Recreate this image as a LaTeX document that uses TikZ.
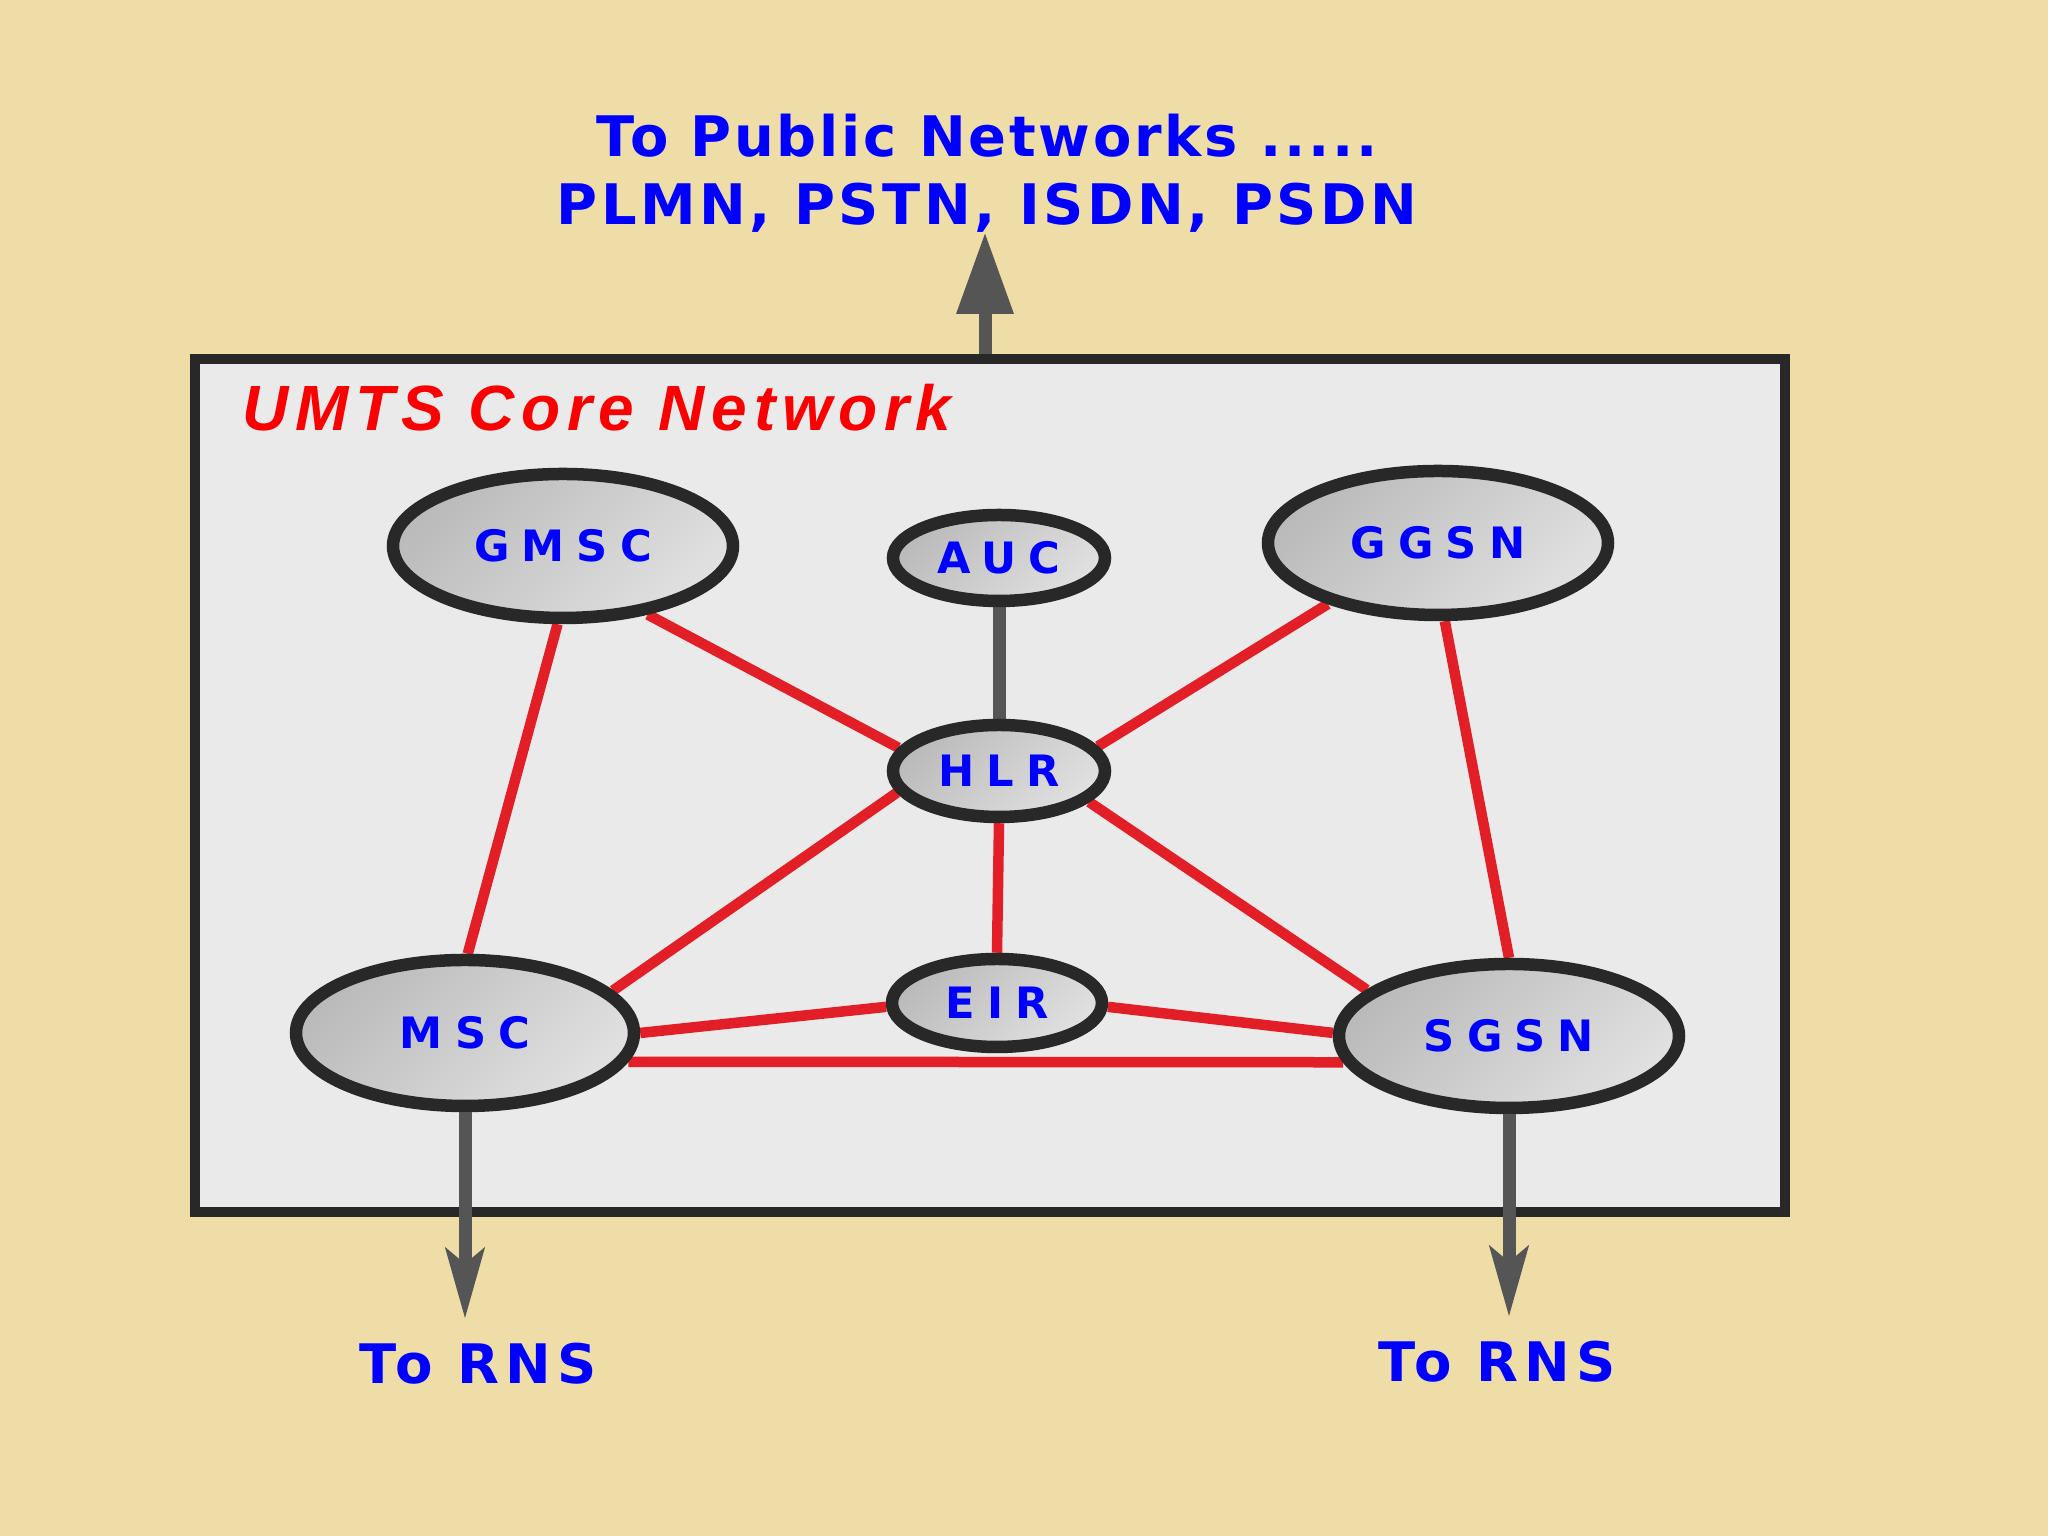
\documentclass[tikz,border=0pt]{standalone}
\usepackage{fontspec}
\setmainfont{Liberation Sans}
\newfontfamily\pixA[LetterSpace=5]{DejaVu Sans}
\newfontfamily\pixAA[LetterSpace=6.5]{DejaVu Sans}
\newfontfamily\pixB[LetterSpace=28]{DejaVu Sans}
\newfontfamily\pixC[LetterSpace=11]{DejaVu Sans}
\newfontfamily\titlefont[LetterSpace=10.5]{Liberation Sans}
\usetikzlibrary{arrows.meta,shapes.geometric}
\pgfdeclarelayer{background}
\pgfdeclarelayer{links}
\pgfsetlayers{background,links,main}
\definecolor{paper}{RGB}{239,221,168}
\definecolor{boxfill}{RGB}{234,234,234}
\definecolor{outline}{RGB}{40,40,40}
\definecolor{linkred}{RGB}{226,30,38}
\definecolor{titlered}{RGB}{250,0,0}
\definecolor{textblue}{RGB}{0,0,255}
\definecolor{arrowgray}{RGB}{85,85,85}
\tikzset{
  netnode/.style={ellipse, draw=outline, line width=1.25mm, top color=black!27, bottom color=black!12,
    shading angle=45, inner sep=0pt, text=textblue,
    font=\pixB\bfseries\fontsize{12.3}{14}\selectfont},
  corebox/.style={rectangle, draw=outline, line width=1.05mm, fill=boxfill, inner sep=0pt},
  link/.style={draw=linkred, line width=1.05mm},
  grayline/.style={draw=arrowgray, line width=1.3mm},
  toplabel/.style={text=textblue, inner sep=0pt, font=\pixA\bfseries\fontsize{15.9}{18}\selectfont},
  toplabelb/.style={text=textblue, inner sep=0pt, font=\pixAA\bfseries\fontsize{15.9}{18}\selectfont},
  rnslabel/.style={text=textblue, inner sep=0pt, font=\pixC\bfseries\fontsize{15.5}{18}\selectfont},
  titlelabel/.style={text=titlered, inner sep=0pt, font=\titlefont\bfseries\itshape\fontsize{18.2}{20}\selectfont}
}
\begin{document}
\begin{tikzpicture}
\useasboundingbox (0,0) rectangle (20.48,15.36);
\begin{pgfonlayer}{background}
\fill[paper] (0,0) rectangle (20.48,15.36);
\node[corebox, minimum width=15.90cm, minimum height=8.53cm] (core) at (9.90,7.505) {};
\end{pgfonlayer}

\node[titlelabel, anchor=base west] (title) at (2.42,11.05) {UMTS Core Network};

\node[netnode, minimum width=3.40cm, minimum height=1.44cm] (gmsc) at (5.63,9.90) {GMSC};
\node[netnode, minimum width=2.12cm, minimum height=0.86cm] (auc) at (9.99,9.78) {AUC};
\node[netnode, minimum width=3.40cm, minimum height=1.44cm] (ggsn) at (14.38,9.93) {GGSN};
\node[netnode, minimum width=2.12cm, minimum height=0.92cm] (hlr) at (9.99,7.65) {HLR};
\node[netnode, minimum width=2.10cm, minimum height=0.88cm] (eir) at (9.97,5.33) {EIR};
\node[netnode, minimum width=3.38cm, minimum height=1.46cm] (msc) at (4.65,5.03) {MSC};
\node[netnode, minimum width=3.40cm, minimum height=1.44cm] (sgsn) at (15.09,5.00) {SGSN};

\begin{pgfonlayer}{links}
\draw[link] (gmsc.266) -- (msc.88);
\draw[link] (gmsc.321) -- (hlr.167);
\draw[link] (ggsn.209) -- (hlr.14);
\draw[link] (ggsn.275) -- (sgsn.90);
\draw[link] (hlr.192) -- (msc.16);
\draw[link] (hlr.south) -- (eir.north);
\draw[link] (hlr.341) -- (sgsn.162);
\draw[link] (msc.0) -- (eir.182);
\draw[link] (eir.358) -- (sgsn.179);
\draw[link] (msc.350) -- (sgsn.189);
\draw[grayline] (auc.south) -- (hlr.north);
\end{pgfonlayer}

\coordinate (pubtip) at (9.85,13.04);
\coordinate (rnstipA) at (4.65,2.17);
\coordinate (rnstipB) at (15.09,2.19);
\draw[grayline, -{Triangle[length=8.2mm,width=5.4mm]}] (core.north -| pubtip) -- (pubtip);
\draw[grayline, -{Stealth[length=7mm,width=3.8mm,inset=1.5mm]}] (msc.south) -- (rnstipA);
\draw[grayline, -{Stealth[length=7mm,width=3.8mm,inset=1.5mm]}] (sgsn.south) -- (rnstipB);

\node[toplabel, anchor=base] (pub1) at (9.87,13.79) {To Public Networks .....};
\node[toplabelb, anchor=base] (pub2) at (9.87,13.11) {PLMN, PSTN, ISDN, PSDN};
\node[rnslabel, anchor=base] (rnsA) at (4.78,1.52) {To RNS};
\node[rnslabel, anchor=base] (rnsB) at (14.97,1.54) {To RNS};
\end{tikzpicture}
\end{document}
